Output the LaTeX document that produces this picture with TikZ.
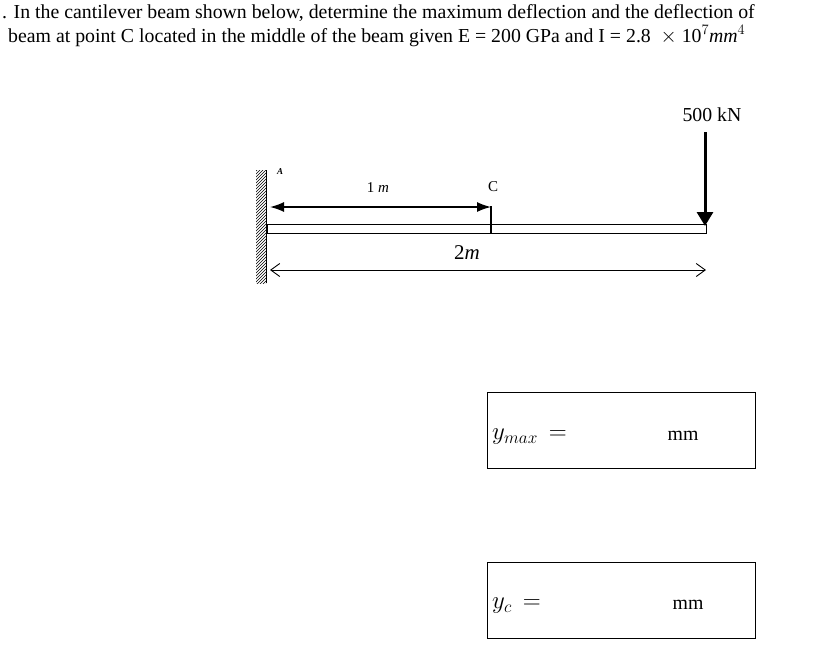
\documentclass[tikz,border=0pt]{standalone}
\usepackage{fontspec}
\setmainfont{Liberation Serif}
\usetikzlibrary{arrows.meta,patterns}
\begin{document}
\begin{tikzpicture}[x=1pt,y=-1pt,
  txt/.style={inner sep=0pt,font=\fontsize{19.8}{24}\selectfont},
  ansbox/.style={draw,line width=0.8pt},
  dim/.style={line width=1.5pt}]
\useasboundingbox (0,0) rectangle (815,667);
\node[txt,anchor=west] (t1) at (2,13) {. In the cantilever beam shown below, determine the maximum deflection and the deflection of};
\node[txt,anchor=west] (t2) at (8,36) {beam at point C located in the middle of the beam given E = 200 GPa and I = 2.8 ~$\times$ 10$^{7}\mathit{mm}^{4}$};
% wall
\fill[pattern=north east lines] (256,170) rectangle (266,283);
\draw[line width=1pt] (266,170) -- (266,283);
\node[font=\bfseries\itshape\small,inner sep=0pt] (A) at (280,172) {A};
% beam
\draw[line width=1pt] (267,224) rectangle (706,233);
% C tick
\coordinate (C) at (491,207);
\draw[line width=1.5pt] (491,206) -- (491,233);
\node[font=\fontsize{15}{17}\selectfont,inner sep=0pt] (Cl) at (493,187) {C};
% 1 m dimension
\coordinate (d1a) at (270,207);
\draw[dim,{Latex[length=14pt,width=10pt]}-{Latex[length=14pt,width=10pt]}] (d1a) -- (C);
\node[font=\fontsize{15}{17}\selectfont,inner sep=0pt] (l1) at (378,188) {1 \textit{m}};
% 2 m dimension
\coordinate (d2a) at (270,270);
\coordinate (d2b) at (706,270);
\draw[line width=0.9pt,{Straight Barb[length=9pt,width=13pt]}-{Straight Barb[length=9pt,width=13pt]}] (d2a) -- (d2b);
\node[font=\fontsize{21}{24}\selectfont\itshape,inner sep=0pt] (l2) at (467,253) {\upshape2\itshape m};
% load
\coordinate (P0) at (705,132);
\coordinate (P1) at (705,226);
\draw[line width=3pt,-{Triangle[length=14pt,width=16pt]}] (P0) -- (P1);
\node[txt] (lp) at (712,115) {500 kN};
% answer boxes
\node[ansbox,minimum width=268pt,minimum height=76pt,anchor=north west] (b1) at (487,392) {};
\node[anchor=west,inner sep=0pt,font=\fontsize{24}{28}\selectfont] (y1) at (492,437) {$y_{max}\,=$};
\node[txt] (m1) at (683,436) {mm};
\node[ansbox,minimum width=268pt,minimum height=76pt,anchor=north west] (b2) at (487,562) {};
\node[anchor=west,inner sep=0pt,font=\fontsize{24}{28}\selectfont] (y2) at (492,606) {$y_c\,=$};
\node[txt] (m2) at (688,605) {mm};
\end{tikzpicture}
\end{document}
